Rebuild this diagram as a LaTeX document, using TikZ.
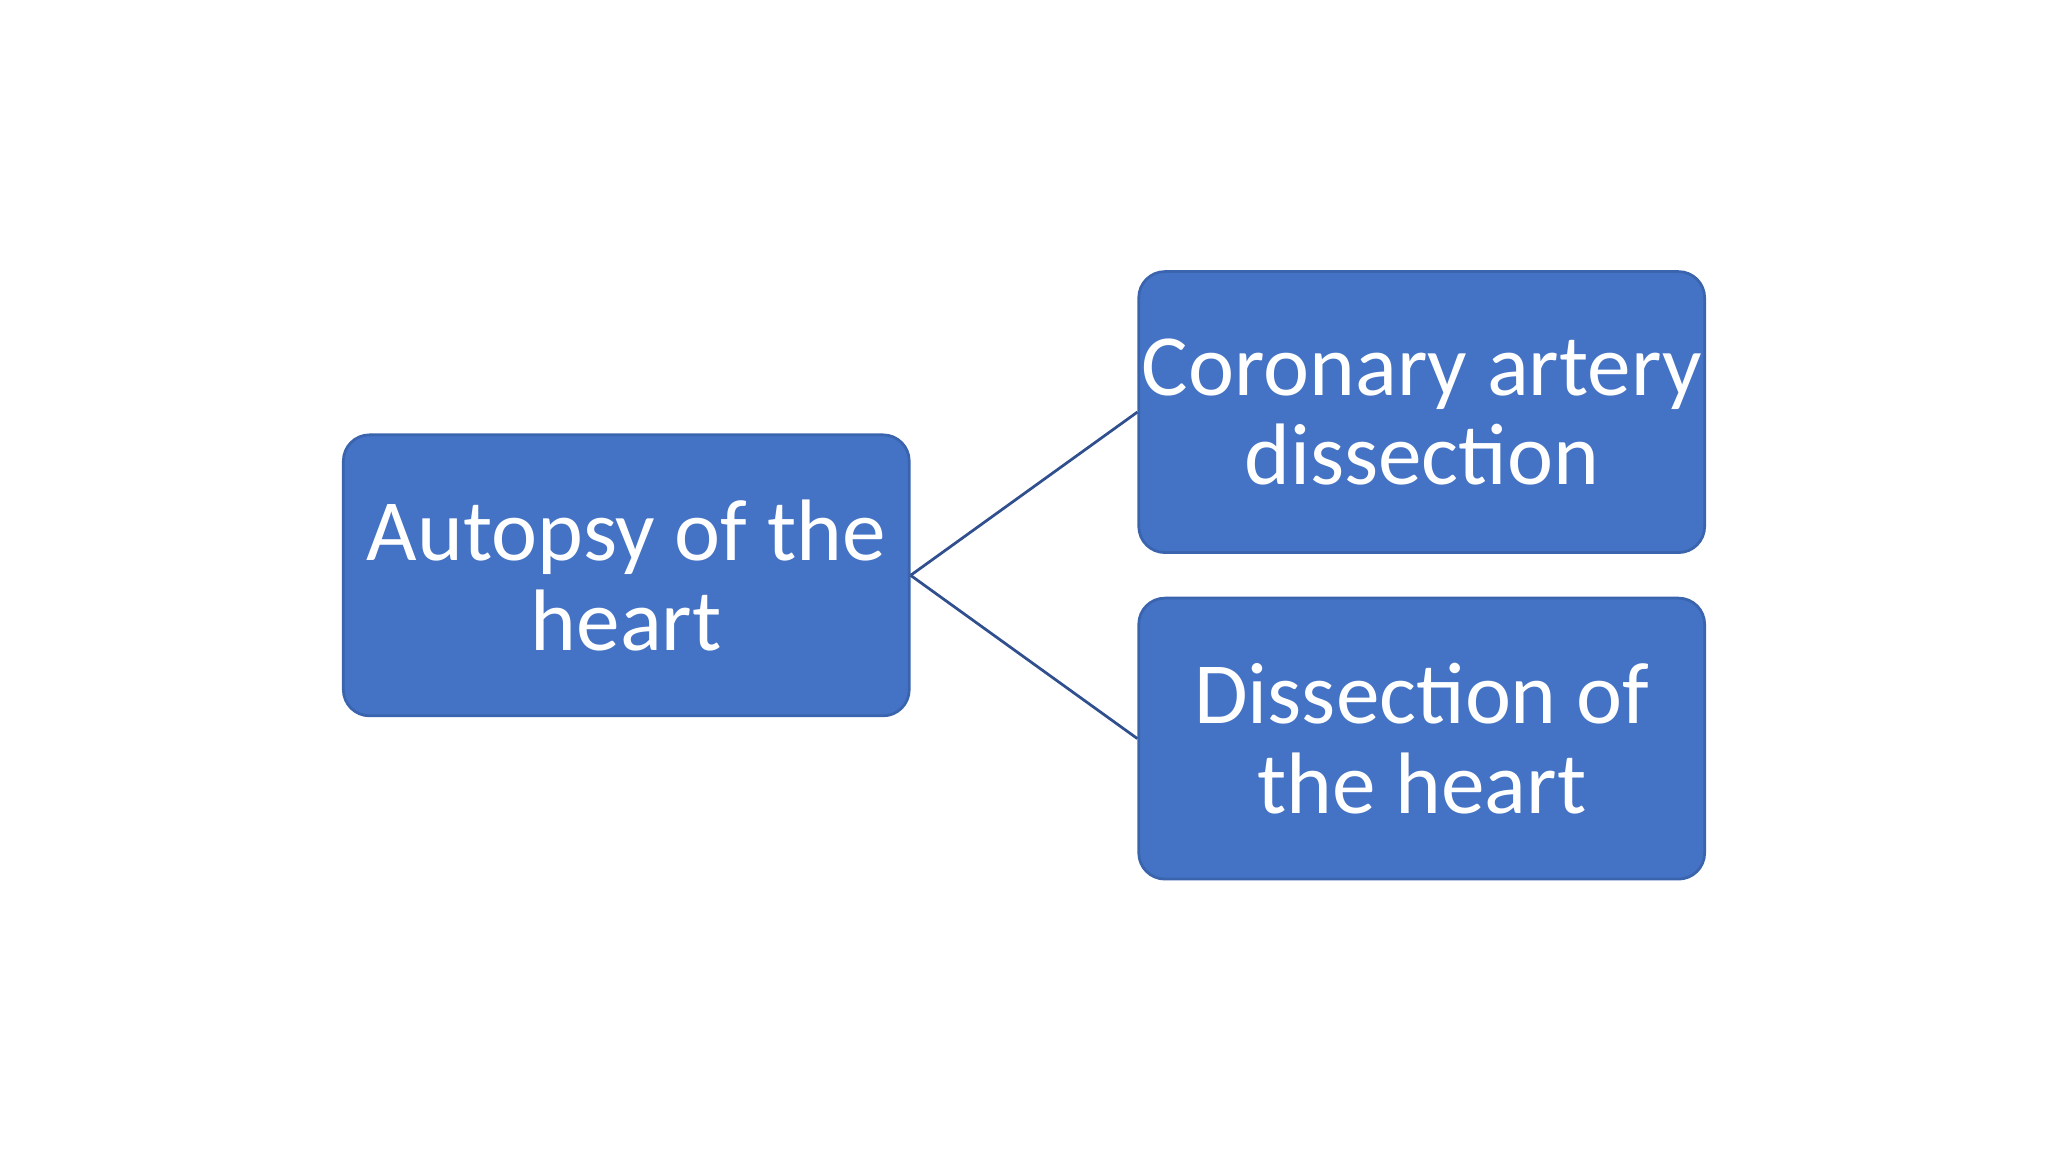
\documentclass[tikz,border=0pt]{standalone}
\usepackage{fontspec}
\setmainfont{Carlito}
\definecolor{boxfill}{HTML}{4472C4}
\definecolor{boxedge}{HTML}{3A64AE}
\definecolor{linkc}{HTML}{2F4F8F}
\begin{document}
\begin{tikzpicture}[x=0.01cm,y=-0.01cm,
  box/.style={fill=boxfill,draw=boxedge,line width=0.6pt,rounded corners=0.2cm,
    minimum width=4.33cm,minimum height=2.15cm,align=center,
    text=white,font=\fontsize{19}{19.5}\selectfont,inner sep=0pt},
  link/.style={draw=linkc,line width=0.6pt}]
\useasboundingbox (0,0) rectangle (1568,882);
\node[box] (a) at (479.5,440.5) {Autopsy of the\\heart};
\node[box] (b) at (1088.5,315.5) {Coronary artery\\dissection};
\node[box] (c) at (1088.5,565.5) {Dissection of\\the heart};
\draw[link] (a.east) -- (b.west);
\draw[link] (a.east) -- (c.west);
\end{tikzpicture}
\end{document}
